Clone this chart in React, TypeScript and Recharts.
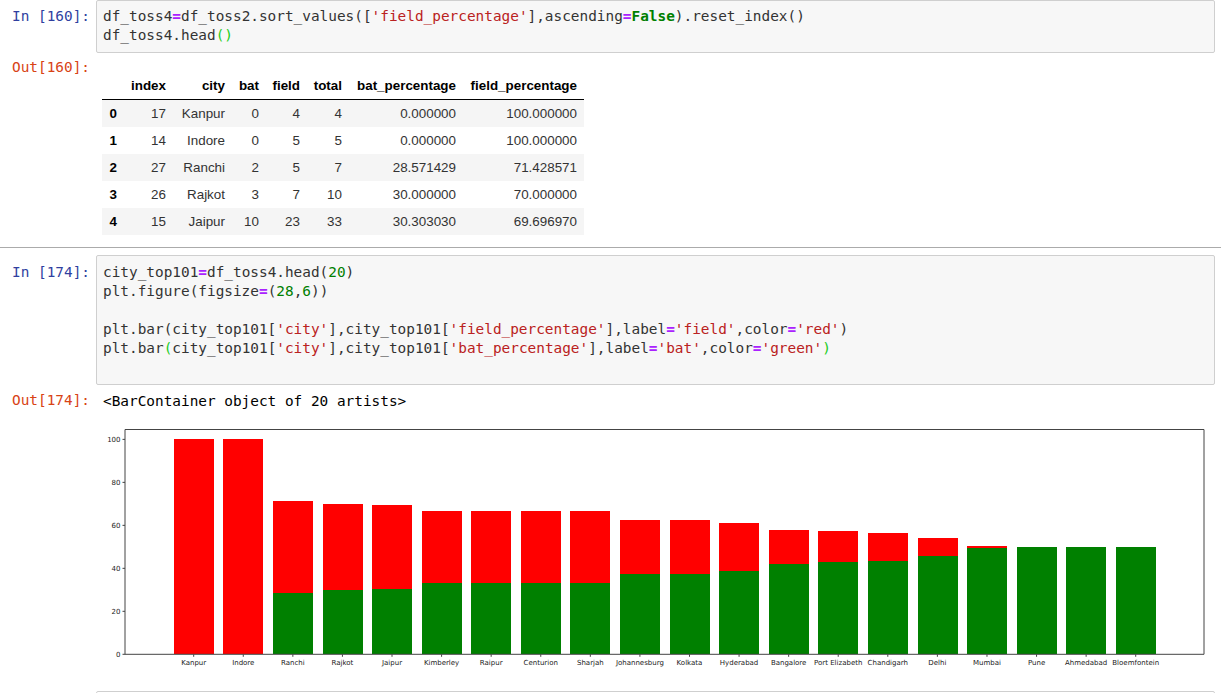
import { BarChart, Bar, XAxis, YAxis } from 'recharts'

const cities = ['Kanpur', 'Indore', 'Ranchi', 'Rajkot', 'Jaipur', 'Kimberley', 'Raipur', 'Centurion', 'Sharjah', 'Johannesburg', 'Kolkata', 'Hyderabad', 'Bangalore', 'Port Elizabeth', 'Chandigarh', 'Delhi', 'Mumbai', 'Pune', 'Ahmedabad', 'Bloemfontein']
const fieldPercentage = [100, 100, 71.43, 70, 69.7, 66.67, 66.67, 66.67, 66.67, 62.5, 62.5, 61.1, 57.9, 57.2, 56.6, 54.3, 50.5, 50, 50, 50]
const batPercentage = [0, 0, 28.57, 30, 30.3, 33.33, 33.33, 33.33, 33.33, 37.5, 37.5, 38.9, 42.1, 42.8, 43.4, 45.7, 49.5, 50, 50, 50]
const yTicks = [0, 20, 40, 60, 80, 100]

const tableHeaders = ['index', 'city', 'bat', 'field', 'total', 'bat_percentage', 'field_percentage']
const tableRows = [
  ['17', 'Kanpur', '0', '4', '4', '0.000000', '100.000000'],
  ['14', 'Indore', '0', '5', '5', '0.000000', '100.000000'],
  ['27', 'Ranchi', '2', '5', '7', '28.571429', '71.428571'],
  ['26', 'Rajkot', '3', '7', '10', '30.000000', '70.000000'],
  ['15', 'Jaipur', '10', '23', '33', '30.303030', '69.696970'],
]
const tableRight = [166, 225, 259, 300, 342, 456, 577]

const data = cities.map((city, i) => ({ city, field: fieldPercentage[i], bat: batPercentage[i] }))

const mono = '"DejaVu Sans Mono", monospace'
const RED = '#BA2121'
const GRN = '#008000'
const PUR = '#AA22FF'
const PAREN = '#22CC22'

type Tok = string | [string, string, boolean?]

const code1: Tok[][] = [
  ['df_toss4', ['=', PUR, true], 'df_toss2.sort_values([', ["'field_percentage'", RED], '],ascending', ['=', PUR, true], ['False', GRN, true], ').reset_index()'],
  ['df_toss4.head', ['()', PAREN]],
]
const code2: Tok[][] = [
  ['city_top101', ['=', PUR, true], 'df_toss4.head(', ['20', GRN], ')'],
  ['plt.figure(figsize', ['=', PUR, true], '(', ['28', GRN], ',', ['6', GRN], '))'],
  [],
  ['plt.bar(city_top101[', ["'city'", RED], '],city_top101[', ["'field_percentage'", RED], '],label', ['=', PUR, true], ["'field'", RED], ',color', ['=', PUR, true], ["'red'", RED], ')'],
  ['plt.bar', ['(', PAREN], 'city_top101[', ["'city'", RED], '],city_top101[', ["'bat_percentage'", RED], '],label', ['=', PUR, true], ["'bat'", RED], ',color', ['=', PUR, true], ["'green'", RED], [')', PAREN]],
]

function Code({ lines, top }: { lines: Tok[][]; top: number }) {
  return (
    <>
      {lines.map((line, i) => (
        <div key={i} style={{ position: 'absolute', left: 103, top: top + i * 19, height: 19, lineHeight: '19px', fontFamily: mono, fontSize: 14.4, color: '#333', whiteSpace: 'pre' }}>
          {line.map((t, j) =>
            typeof t === 'string'
              ? <span key={j}>{t}</span>
              : <span key={j} style={{ color: t[1], fontWeight: t[2] ? 700 : 400 }}>{t[0]}</span>
          )}
        </div>
      ))}
    </>
  )
}

function Prompt({ text, top, color }: { text: string; top: number; color: string }) {
  return (
    <div style={{ position: 'absolute', right: 1221 - 90, top, lineHeight: '19px', fontFamily: mono, fontSize: 14.4, color, whiteSpace: 'pre' }}>{text}</div>
  )
}

function Box({ top, height }: { top: number; height: number }) {
  return (
    <div style={{ position: 'absolute', left: 96, top, width: 1117, height, background: '#f7f7f7', border: '1px solid #cfcfcf', borderRadius: 2 }} />
  )
}

function Cell({ text, right, y, bold }: { text: string; right: number; y: number; bold?: boolean }) {
  return (
    <div style={{ position: 'absolute', right: 1221 - right, top: y - 9, lineHeight: '20px', fontFamily: '"Liberation Sans", Arial, sans-serif', fontSize: 13.4, fontWeight: bold ? 700 : 400, color: bold ? '#000' : '#333', whiteSpace: 'pre' }}>{text}</div>
  )
}

const tick = { fontFamily: '"DejaVu Sans", sans-serif', fontSize: 7, fill: '#222' }
const spine = { stroke: '#444', strokeWidth: 1 }

export default function App() {
  return (
    <div style={{ position: 'absolute', left: 0, top: 0, width: 1221, height: 693, overflow: 'hidden', background: '#fff' }}>
      <Box top={0} height={51} />
      <Prompt text="In [160]:" top={7} color="#303F9F" />
      <Code lines={code1} top={7} />
      <Prompt text="Out[160]:" top={58} color="#D84315" />

      <div style={{ position: 'absolute', left: 102, top: 99, width: 482, height: 1, background: '#000' }} />
      {tableHeaders.map((h, i) => <Cell key={h} text={h} right={tableRight[i]} y={85} bold />)}
      {tableRows.map((row, r) => (
        <div key={r}>
          {r % 2 === 0 && <div style={{ position: 'absolute', left: 102, top: 100 + r * 27, width: 482, height: 27, background: '#f5f5f5' }} />}
          <Cell text={String(r)} right={117} y={113 + r * 27} bold />
          {row.map((c, i) => <Cell key={i} text={c} right={tableRight[i]} y={113 + r * 27} />)}
        </div>
      ))}

      <div style={{ position: 'absolute', left: 0, top: 247, width: 1221, height: 1, background: '#ababab' }} />

      <Box top={255} height={128} />
      <Prompt text="In [174]:" top={263} color="#303F9F" />
      <Code lines={code2} top={263} />
      <Prompt text="Out[174]:" top={391} color="#D84315" />
      <div style={{ position: 'absolute', left: 103, top: 392, lineHeight: '19px', fontFamily: mono, fontSize: 14.4, color: '#000', whiteSpace: 'pre' }}>{'<BarContainer object of 20 artists>'}</div>

      <div style={{ position: 'absolute', left: 90, top: 425 }}>
        <BarChart
          width={1131}
          height={260}
          data={data}
          margin={{ top: 3.5, right: 16, bottom: 10.7, left: 0 }}
          barCategoryGap="10%"
        >
          <XAxis
            dataKey="city"
            interval={0}
            padding={{ left: 43.9, right: 43.5 }}
            height={20}
            tick={tick}
            tickSize={2.5}
            tickMargin={3}
            tickLine={spine}
            axisLine={spine}
          />
          <XAxis
            xAxisId="top"
            orientation="top"
            dataKey="city"
            padding={{ left: 43.9, right: 43.5 }}
            height={1}
            tick={false}
            tickLine={false}
            axisLine={spine}
          />
          <YAxis
            domain={[0, 104.6]}
            ticks={yTicks}
            width={35}
            tick={tick}
            tickSize={2.5}
            tickMargin={2}
            tickLine={spine}
            axisLine={spine}
          />
          <YAxis
            yAxisId="right"
            orientation="right"
            domain={[0, 104.6]}
            width={1}
            tick={false}
            tickLine={false}
            axisLine={spine}
          />
          <Bar dataKey="field" fill="#ff0000" shapeRendering="crispEdges" isAnimationActive={false} />
          <Bar dataKey="bat" xAxisId="top" fill="#008000" shapeRendering="crispEdges" isAnimationActive={false} />
        </BarChart>
      </div>

      <div style={{ position: 'absolute', left: 96, top: 691, width: 1117, height: 20, border: '1px solid #cfcfcf', borderRadius: 2, background: '#fff' }} />
    </div>
  )
}
